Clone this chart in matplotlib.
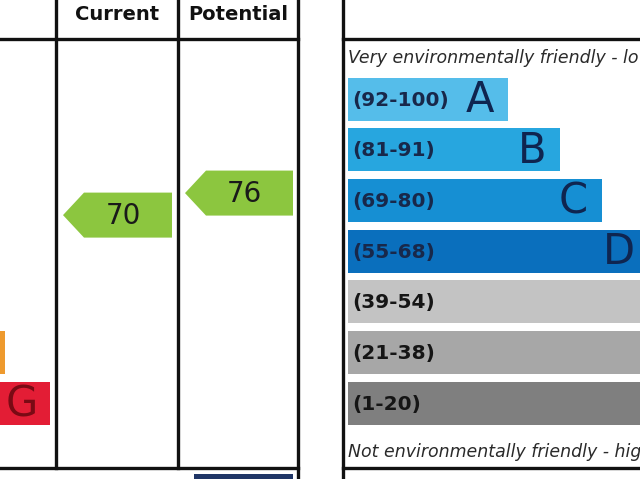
import matplotlib
matplotlib.use("Agg")
import matplotlib.pyplot as plt
from matplotlib.patches import Polygon, Rectangle

# === Data ===
bands = ["A", "B", "C", "D", "E", "F", "G"]
score_ranges = ["(92-100)", "(81-91)", "(69-80)", "(55-68)", "(39-54)", "(21-38)", "(1-20)"]
co2_colors = ["#55bdea", "#27a6df", "#168fd3", "#0a6fbd", "#c3c3c3", "#a7a7a7", "#7f7f7f"]
energy_colors = ["#008054", "#19b459", "#8dce46", "#ffd500", "#fcaa65", "#ee9a2e", "#e31d35"]
current_rating = 70
potential_rating = 76
header_labels = ["Current", "Potential"]

# === Layout (pixels, figure is 640x479) ===
W, H = 640, 479
ROW0, ROW_STEP, ROW_H = 99.0, 50.7, 43
LINE = "#111111"
LW = 2.4


def score_to_y(score):
    # vertical position of a rating arrow inside the band scale
    return 472.0 - 3.67 * score


def draw_arrow(ax, score, tip_x, right_x, label):
    yc = score_to_y(score)
    h = 45
    shoulder = tip_x + 21
    pts = [(tip_x, yc), (shoulder, yc - h / 2), (right_x, yc - h / 2),
           (right_x, yc + h / 2), (shoulder, yc + h / 2)]
    ax.add_patch(Polygon(pts, closed=True, facecolor="#8cc63f", edgecolor="none", zorder=3))
    ax.text((shoulder + right_x) / 2 - 5, yc + 1, label, fontsize=20, color="#1a1a1a",
            ha="center", va="center", zorder=4)


fig = plt.figure(figsize=(W / 100, H / 100), dpi=100)
ax = fig.add_axes([0, 0, 1, 1])
ax.set_xlim(0, W)
ax.set_ylim(H, 0)
ax.axis("off")

rows = [ROW0 + i * ROW_STEP for i in range(len(bands))]

# --- right panel: environmental impact bars ---
co2_widths = [160, 212, 254, 301, 348, 395, 442]
ax.barh(rows, co2_widths, left=348, height=ROW_H, color=co2_colors, zorder=2)
for i, (y, band, rng) in enumerate(zip(rows, bands, score_ranges)):
    txt_col = "#18284a" if i < 4 else "#151515"
    ax.text(352, y + 1, rng, fontsize=14.5, fontweight="bold", color=txt_col,
            ha="left", va="center", zorder=4)
    if i < 4:
        ax.text(348 + co2_widths[i] - 14, y + 1, band, fontsize=30, color="#0f2550",
                ha="right", va="center", zorder=4, clip_on=True)

ax.text(348, 58, "Very environmentally friendly - lower CO2 emissions", fontsize=12.5,
        style="italic", color="#2a2a2a", ha="left", va="center", clip_on=True)
ax.text(348, 452, "Not environmentally friendly - higher CO2 emissions", fontsize=12.5,
        style="italic", color="#2a2a2a", ha="left", va="center", clip_on=True)

# --- left panel: energy efficiency bars (mostly off the crop) ---
energy_ends = [50 - (6 - i) * 45 for i in range(len(bands))]
ax.barh(rows, [e + 300 for e in energy_ends], left=-300, height=ROW_H,
        color=energy_colors, zorder=2)
for band, y, end in zip(bands, rows, energy_ends):
    if end - 12 > 25:  # only letters that fall inside the crop
        ax.text(end - 12, y + 1, band, fontsize=30, color="#7a0a14", ha="right",
                va="center", zorder=4)

# --- rating arrows ---
draw_arrow(ax, current_rating, 63, 172, str(current_rating))
draw_arrow(ax, potential_rating, 185, 293, str(potential_rating))

# --- table lines ---
ax.plot([0, 298], [39, 39], color=LINE, lw=LW, zorder=5)
ax.plot([0, 298], [468, 468], color=LINE, lw=LW, zorder=5)
ax.plot([56, 56], [0, 468], color=LINE, lw=LW, zorder=5)
ax.plot([178, 178], [0, 468], color=LINE, lw=LW, zorder=5)
ax.plot([298, 298], [0, H], color=LINE, lw=LW, zorder=5)
ax.plot([343, 343], [0, H], color=LINE, lw=LW, zorder=5)
ax.plot([343, W], [39, 39], color=LINE, lw=LW, zorder=5)
ax.plot([343, W], [468, 468], color=LINE, lw=LW, zorder=5)

ax.text(117, 14, header_labels[0], fontsize=14, fontweight="bold", color="#111111",
        ha="center", va="center")
ax.text(238, 14, header_labels[1], fontsize=14, fontweight="bold", color="#111111",
        ha="center", va="center")

ax.add_patch(Rectangle((194, 474), 99, 6, facecolor="#1f3566", edgecolor="none", zorder=4))

fig.savefig("out.png", dpi=100)
